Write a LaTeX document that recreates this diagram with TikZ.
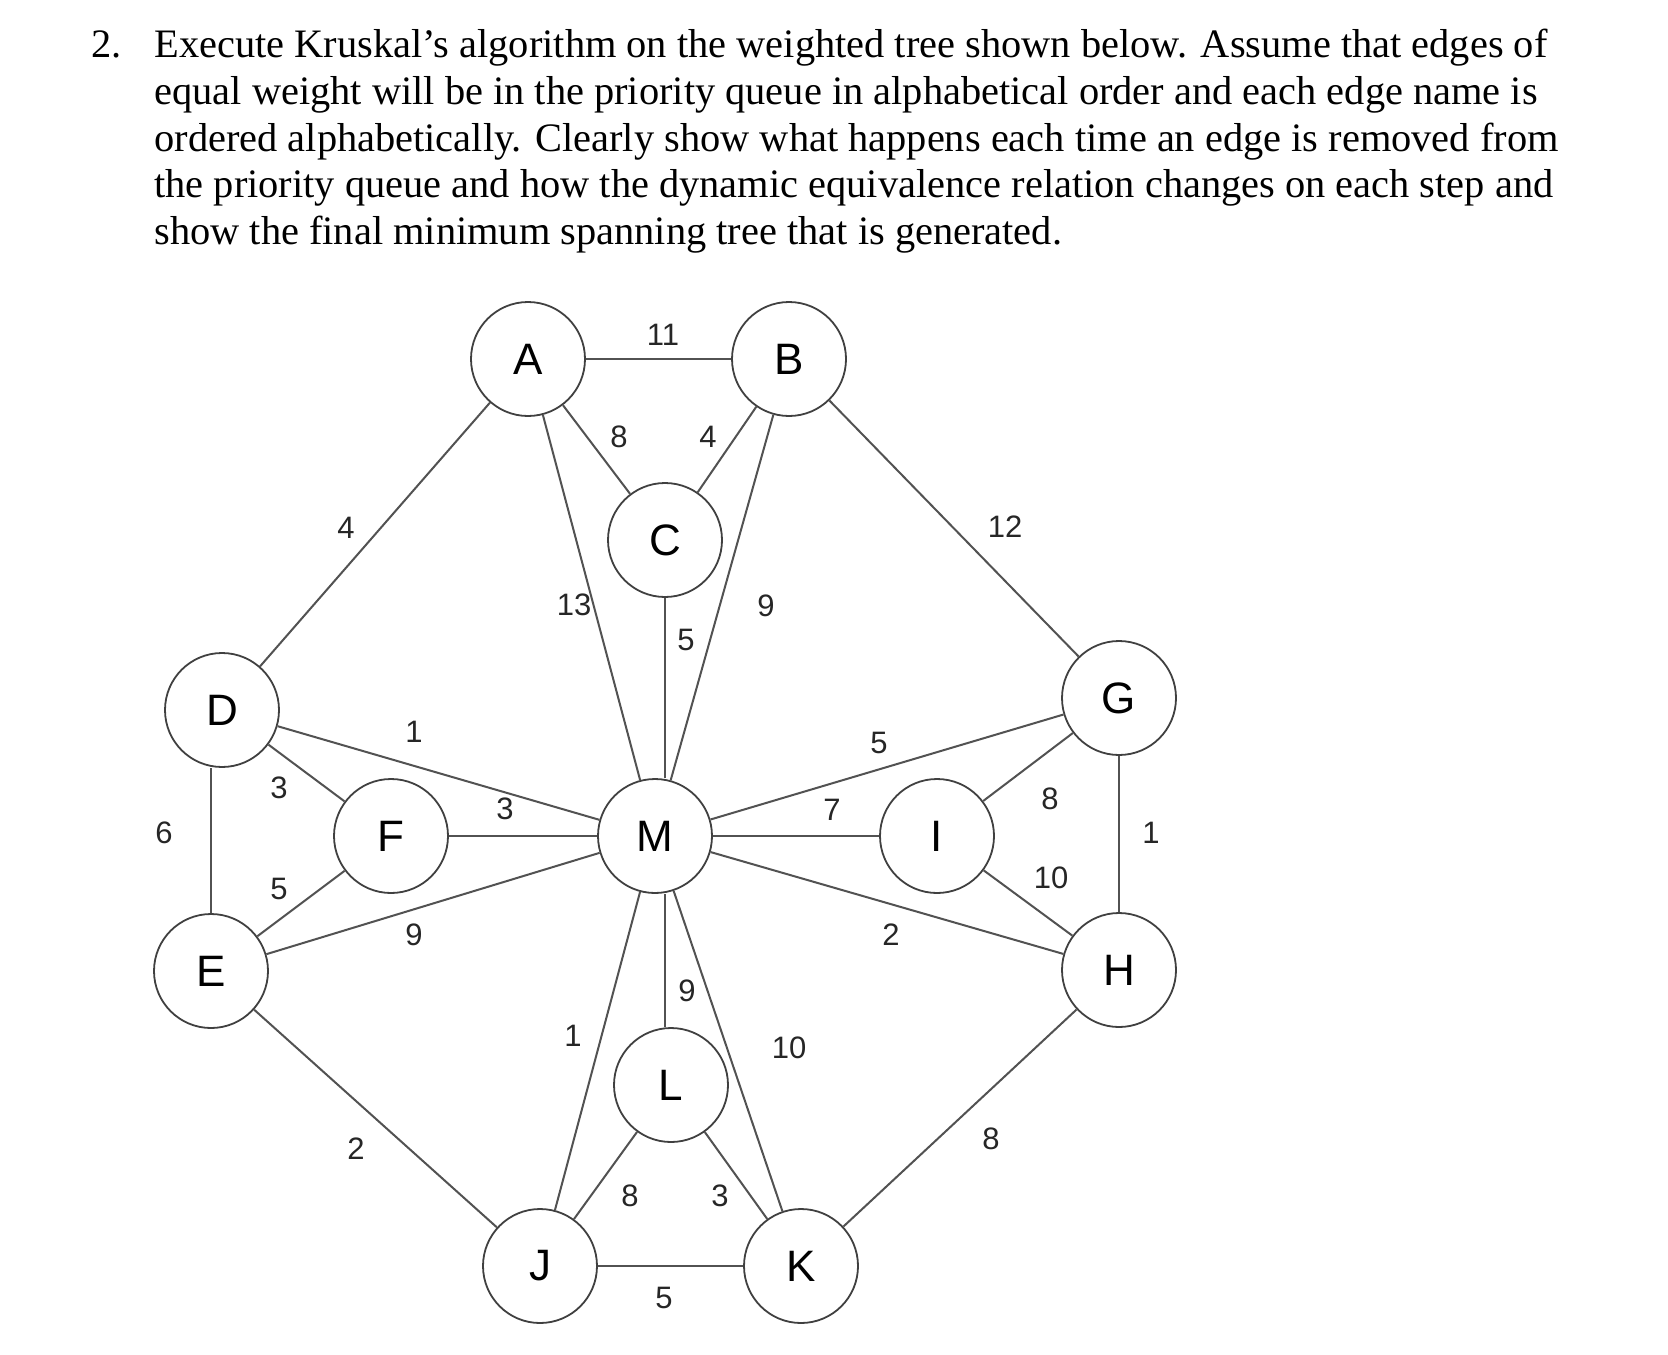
\documentclass[tikz,border=0pt]{standalone}
\usepackage{fontspec}
\setmainfont{Liberation Serif}
\newfontfamily\arialf{Liberation Sans}
\begin{document}
\begin{tikzpicture}[x=0.5pt,y=-0.5pt,
  vtx/.style={circle, draw=black!75, line width=0.9pt, fill=white, minimum size=57pt, inner sep=0pt, font=\arialf\fontsize{22}{22}\selectfont},
  edge/.style={draw=black!68, line width=1pt},
  lbl/.style={font=\arialf\fontsize{15.5}{15.5}\selectfont, inner sep=0pt, text=black!85},
  ttl/.style={font=\fontsize{20.2}{23}\selectfont, anchor=base west, inner sep=0pt}]
\useasboundingbox (0,0) rectangle (1668,1354);
% title
\node[ttl] (num) at (91,58) {2.};
\node[ttl] (t1) at (154,58) {Execute Kruskal’s algorithm on the weighted tree shown below. Assume that edges of};
\node[ttl] (t2) at (154,104.5) {equal weight will be in the priority queue in alphabetical order and each edge name is};
\node[ttl] (t3) at (154,151) {ordered alphabetically. Clearly show what happens each time an edge is removed from};
\node[ttl] (t4) at (154,197.5) {the priority queue and how the dynamic equivalence relation changes on each step and};
\node[ttl] (t5) at (154,244) {show the final minimum spanning tree that is generated.};
% vertices
\node[vtx] (A) at (528,359) {A};
\node[vtx] (B) at (789,359) {B};
\node[vtx] (C) at (665,540) {C};
\node[vtx] (D) at (222,710) {D};
\node[vtx] (E) at (211,971) {E};
\node[vtx] (F) at (391,836) {F};
\node[vtx] (M) at (655,836) {M};
\node[vtx] (I) at (937,836) {I};
\node[vtx] (G) at (1119,698) {G};
\node[vtx] (H) at (1119,970) {H};
\node[vtx] (L) at (671,1085) {L};
\node[vtx] (J) at (540,1266) {J};
\node[vtx] (K) at (801,1266) {K};
% edges
\draw[edge] (A) -- (B);
\draw[edge] (A) -- (C);
\draw[edge] (B) -- (C);
\draw[edge] (A) -- (D);
\draw[edge] (B) -- (G);
\draw[edge] (A) -- (M);
\draw[edge] (B) -- (M);
\draw[edge] (C) -- (C |- M.north);
\draw[edge] (D) -- (M);
\draw[edge] (D) -- (F);
\draw[edge] (E) -- (E |- D.south);
\draw[edge] (F) -- (M);
\draw[edge] (E) -- (F);
\draw[edge] (E) -- (M);
\draw[edge] (G) -- (M);
\draw[edge] (I) -- (M);
\draw[edge] (G) -- (I);
\draw[edge] (G) -- (H);
\draw[edge] (I) -- (H);
\draw[edge] (M) -- (H);
\draw[edge] (C.south |- M.south) -- (C.south |- L.north);
\draw[edge] (J) -- (M);
\draw[edge] (K) -- (M);
\draw[edge] (E) -- (J);
\draw[edge] (H) -- (K);
\draw[edge] (J) -- (L);
\draw[edge] (K) -- (L);
\draw[edge] (J) -- (K);
% weights
\node[lbl] (wAB) at (663,335) {11};
\node[lbl] (wAC) at (619,437) {8};
\node[lbl] (wBC) at (708,437) {4};
\node[lbl] (wAD) at (346,528) {4};
\node[lbl] (wBG) at (1005,527) {12};
\node[lbl] (wAM) at (574,605) {13};
\node[lbl] (wBM) at (766,606) {9};
\node[lbl] (wCM) at (686,640) {5};
\node[lbl] (wDM) at (414,732) {1};
\node[lbl] (wDF) at (279,788) {3};
\node[lbl] (wDE) at (164,833) {6};
\node[lbl] (wFM) at (505,809) {3};
\node[lbl] (wEF) at (279,889) {5};
\node[lbl] (wEM) at (414,935) {9};
\node[lbl] (wGM) at (879,743) {5};
\node[lbl] (wIM) at (832,810) {7};
\node[lbl] (wGI) at (1050,799) {8};
\node[lbl] (wGH) at (1151,833) {1};
\node[lbl] (wIH) at (1051,878) {10};
\node[lbl] (wMH) at (891,935) {2};
\node[lbl] (wLM) at (687,991) {9};
\node[lbl] (wJM) at (573,1036) {1};
\node[lbl] (wKM) at (789,1048) {10};
\node[lbl] (wEJ) at (356,1149) {2};
\node[lbl] (wHK) at (991,1139) {8};
\node[lbl] (wJL) at (630,1196) {8};
\node[lbl] (wKL) at (720,1196) {3};
\node[lbl] (wJK) at (664,1298) {5};
\end{tikzpicture}
\end{document}
